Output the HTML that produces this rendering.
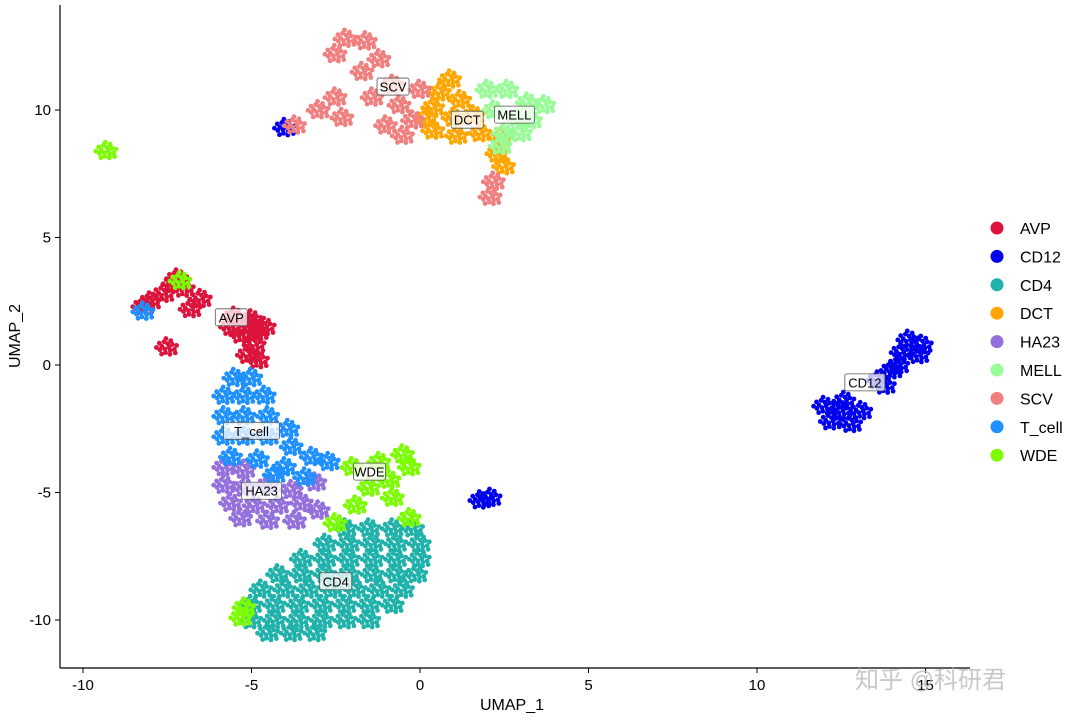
<!DOCTYPE html>
<html><head><meta charset="utf-8">
<style>
body{margin:0;background:#fff;}
svg{display:block;font-family:"Liberation Sans","Noto Sans CJK SC",sans-serif;}
</style></head>
<body>
<svg id="chart" width="1080" height="720">
  <g id="points"></g>
  <line x1="60" y1="5" x2="60" y2="668" stroke="#000" stroke-width="1.2"/>
  <line x1="60" y1="668" x2="970" y2="668" stroke="#000" stroke-width="1.2"/>
  <g id="axes"></g>
  <text x="512" y="710" font-size="16" text-anchor="middle">UMAP_1</text>
  <text x="20" y="336" font-size="16" text-anchor="middle" transform="rotate(-90 20 336)">UMAP_2</text>
  <g id="labels"></g>
  <g id="legend"></g>
  <text x="855" y="688" font-size="24" fill="#bbb" opacity="0.8">知乎 @科研君</text>
</svg>
<script>
const clusters = ["AVP","CD12","CD4","DCT","HA23","MELL","SCV","T_cell","WDE"];
const colors = ["#DC143C","#0000EE","#20B2AA","#FFA500","#9370DB","#98FB98","#F08080","#1E90FF","#7CFC00"];
const xTicks = [-10,-5,0,5,10,15];
const yTicks = [-10,-5,0,5,10];
const AVP = [[-7.3,3.2],[-7,3],[-7.6,2.8],[-8,2.5],[-6.5,2.6],[-6.8,2.2],[-5.5,1.9],[-5,1.8],[-4.8,1.3],[-5.3,1.2],[-4.9,0.8],[-5.1,0.4],[-4.8,0.2],[-5,1.6],[-5.6,1.5],[-7.5,0.7],[-8.2,2.3],[-4.6,1.5],[-7.2,3.4]];
const CD12 = [[12,-1.6],[12.6,-1.4],[13.1,-1.8],[12.2,-2.2],[12.8,-2.3],[12.5,-1.8],[13.6,-0.6],[14,-0.2],[14.3,0.5],[14.8,0.4],[14.5,1.0],[14.2,0],[14.9,0.8],[13.8,-0.8],[-4,9.3],[1.8,-5.3],[2.1,-5.2]];
const CD4 = [[-2.2,-6.4],[-1.5,-6.4],[-0.8,-6.4],[-0.2,-6.4],
[-2.8,-7],[-2.1,-7],[-1.4,-7],[-0.7,-7],[0,-7],
[-3.5,-7.6],[-2.8,-7.6],[-2.1,-7.6],[-1.4,-7.6],[-0.7,-7.6],[0,-7.6],
[-4.2,-8.2],[-3.5,-8.2],[-2.8,-8.2],[-2.1,-8.2],[-1.4,-8.2],[-0.7,-8.2],[-0.1,-8.2],
[-4.7,-8.8],[-4,-8.8],[-3.3,-8.8],[-2.6,-8.8],[-1.9,-8.8],[-1.2,-8.8],[-0.5,-8.8],
[-5,-9.4],[-4.3,-9.4],[-3.6,-9.4],[-2.9,-9.4],[-2.2,-9.4],[-1.5,-9.4],[-0.8,-9.4],
[-5,-10],[-4.3,-10],[-3.6,-10],[-2.9,-10],[-2.2,-10],[-1.5,-10],
[-4.5,-10.5],[-3.8,-10.5],[-3.1,-10.5]];
const DCT = [[0.9,11.2],[0.6,10.7],[1.2,10.4],[0.4,10.1],[1,9.7],[1.6,9.8],[0.4,9.2],[1.1,9.0],[1.8,9.1],[2.4,8.9],[2.3,8.3],[2.5,7.8],[0.2,9.7]];
const HA23 = [[-5.8,-4],[-5.2,-4.1],[-5.8,-4.7],[-5.2,-4.8],[-4.5,-4.7],[-3.8,-4.9],[-5.6,-5.4],[-4.9,-5.5],[-4.2,-5.5],[-3.5,-5.4],[-3,-5.7],[-5.3,-6],[-4.5,-6.1],[-3.7,-6.1],[-3.1,-4.6]];
const MELL = [[2,10.8],[2.6,10.8],[3.2,10.3],[3.7,10.2],[2.2,10],[2.9,9.7],[3.3,9.6],[2.5,9.1],[3,9.1],[2.4,8.6]];
const SCV = [[-2.2,12.8],[-1.6,12.7],[-2.5,12.2],[-1.2,12],[-1.7,11.5],[-0.8,11],[-1.4,10.5],[-0.6,10.2],[0,10.8],[-0.2,9.6],[-2.5,10.5],[-3,10],[-2.3,9.7],[-3.7,9.4],[-1,9.4],[-0.5,9],[2.2,7.2],[2.1,6.6]];
const T_cell = [[-5.5,-0.5],[-5,-0.5],[-5.8,-1.2],[-5.2,-1.2],[-4.6,-1.2],[-5.8,-2],[-5.2,-2],[-4.5,-2],[-3.9,-2.5],[-5.8,-2.8],[-5.2,-2.8],[-4.5,-2.8],[-3.8,-3.2],[-3.2,-3.6],[-5.6,-3.6],[-4.8,-3.7],[-4,-4],[-2.7,-3.8],[-3.4,-4.4],[-4.3,-4.3],[-8.2,2.1]];
const WDE = [[-1.2,-3.8],[-0.5,-3.5],[-0.3,-4],[-0.9,-4.5],[-1.5,-4.8],[-0.8,-5.2],[-1.9,-5.5],[-2,-4],[-0.3,-6],[-9.3,8.4],[-5.2,-9.5],[-5.3,-9.9],[-2.5,-6.2],[-7.1,3.3]];
const clusterData = [AVP,CD12,CD4,DCT,HA23,MELL,SCV,T_cell,WDE];
const labelNames = ["SCV","DCT","MELL","AVP","CD12","T_cell","HA23","WDE","CD4"];
const labelX = [-0.8,1.4,2.8,-5.6,13.2,-5.0,-4.7,-1.5,-2.5];
const labelY = [10.9,9.6,9.8,1.85,-0.7,-2.6,-4.95,-4.2,-8.5];

const NS="http://www.w3.org/2000/svg";
const sx = v => 420 + v*33.7;
const sy = v => 365 - v*25.5;
function mk(tag, attrs, parent){const e=document.createElementNS(NS,tag);for(const k in attrs)e.setAttribute(k,attrs[k]);parent.appendChild(e);return e;}
const pts=document.getElementById('points');
// fixed sunflower-spiral dot pattern around each anchor
const offs=[];
for(let i=0;i<18;i++){const r=11*Math.sqrt((i+0.5)/18);const a=i*2.39996;offs.push([r*Math.cos(a),0.85*r*Math.sin(a)]);}
clusterData.forEach((arr,ci)=>{
  const g=mk('g',{},pts);
  
  
  arr.forEach(p=>{
    offs.forEach(o=>{
      mk('circle',{cx:(sx(p[0])+o[0]).toFixed(1),cy:(sy(p[1])+o[1]).toFixed(1),r:2.4,fill:colors[ci]},g);
    });
  });
});
const ax=document.getElementById('axes');
xTicks.forEach(t=>{
  const l=mk('line',{x1:sx(t),x2:sx(t),y1:668,y2:673,stroke:'#000'},ax);
  
  const tx=mk('text',{x:sx(t),y:690,'font-size':15,'text-anchor':'middle'},ax);tx.textContent=t;
  
  
});
yTicks.forEach(t=>{
  const l=mk('line',{x1:55,x2:60,y1:sy(t),y2:sy(t),stroke:'#000'},ax);
  
  const tx=mk('text',{x:51,y:sy(t)+5,'font-size':15,'text-anchor':'end'},ax);tx.textContent=t;
  
  
});
const lb=document.getElementById('labels');
labelNames.forEach((n,i)=>{
  const w=n.length*8+8, x=sx(labelX[i]), y=sy(labelY[i]);
  const g=mk('g',{},lb);
  
  
  mk('rect',{x:x-w/2,y:y-9,width:w,height:17,rx:2,fill:'rgba(255,255,255,0.75)',stroke:'#555','stroke-width':0.8},g);
  const t=mk('text',{x:x,y:y+4.5,'font-size':13,'text-anchor':'middle'},g);t.textContent=n;
});
const lg=document.getElementById('legend');
clusters.forEach((n,i)=>{
  const y=228+i*28.4;
  const g=mk('g',{},lg);
  
  
  mk('circle',{cx:997,cy:y,r:6.5,fill:colors[i]},g);
  const t=mk('text',{x:1020,y:y+6,'font-size':16},g);t.textContent=n;
});
</script>
</body></html>
